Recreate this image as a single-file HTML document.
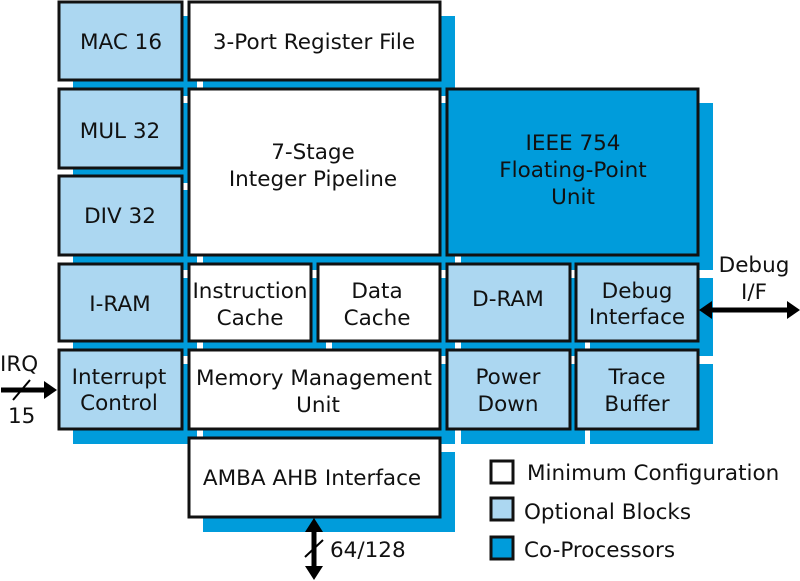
<!DOCTYPE html>
<html><head><meta charset="utf-8"><style>
html,body{margin:0;padding:0;background:#fff;width:800px;height:581px;overflow:hidden}
text{font-family:"DejaVu Sans","Liberation Sans",sans-serif;font-size:21.5px;fill:#111}
</style></head><body>
<svg width="800" height="581" viewBox="0 0 800 581" xmlns="http://www.w3.org/2000/svg">
<g fill="#009cdb">
<rect x="73" y="16" width="124" height="80"/>
<rect x="203" y="16" width="252" height="80"/>
<rect x="73" y="103" width="124" height="80"/>
<rect x="73" y="190" width="124" height="80"/>
<rect x="203" y="103" width="252" height="167"/>
<rect x="461" y="103" width="252" height="167"/>
<rect x="73" y="278" width="124" height="78"/>
<rect x="203" y="278" width="123" height="78"/>
<rect x="332" y="278" width="123" height="78"/>
<rect x="461" y="278" width="124" height="78"/>
<rect x="590" y="278" width="123" height="78"/>
<rect x="73" y="364" width="124" height="80"/>
<rect x="203" y="364" width="252" height="80"/>
<rect x="461" y="364" width="124" height="80"/>
<rect x="590" y="364" width="123" height="80"/>
<rect x="203" y="452" width="252" height="80"/>
</g>
<g stroke="#111" stroke-width="3">
<rect x="59" y="2" width="123" height="78" fill="#acd7f1"/>
<rect x="189" y="2" width="251" height="78" fill="#fff"/>
<rect x="59" y="89" width="123" height="79" fill="#acd7f1"/>
<rect x="59" y="176" width="123" height="79" fill="#acd7f1"/>
<rect x="189" y="89" width="251" height="166" fill="#fff"/>
<rect x="447" y="89" width="251" height="166" fill="#009cdb"/>
<rect x="59" y="264" width="123" height="77" fill="#acd7f1"/>
<rect x="189" y="264" width="122" height="77" fill="#fff"/>
<rect x="318" y="264" width="122" height="77" fill="#fff"/>
<rect x="447" y="264" width="123" height="77" fill="#acd7f1"/>
<rect x="576" y="264" width="122" height="77" fill="#acd7f1"/>
<rect x="59" y="350" width="123" height="79" fill="#acd7f1"/>
<rect x="189" y="350" width="251" height="79" fill="#fff"/>
<rect x="447" y="350" width="123" height="79" fill="#acd7f1"/>
<rect x="576" y="350" width="122" height="79" fill="#acd7f1"/>
<rect x="189" y="438" width="251" height="79" fill="#fff"/>
<rect x="491" y="461" width="22" height="22" fill="#fff"/>
<rect x="491" y="498" width="22" height="22" fill="#acd7f1"/>
<rect x="491" y="537" width="22" height="22" fill="#009cdb"/>
</g>
<g text-anchor="middle">
<text x="121" y="49">MAC 16</text>
<text x="314" y="49">3-Port Register File</text>
<text x="120" y="138">MUL 32</text>
<text x="120" y="223">DIV 32</text>
<text x="313" y="159">7-Stage</text>
<text x="313" y="186">Integer Pipeline</text>
<text x="573" y="150">IEEE 754</text>
<text x="573" y="177">Floating-Point</text>
<text x="573" y="204">Unit</text>
<text x="120" y="311">I-RAM</text>
<text x="250" y="298">Instruction</text>
<text x="250" y="325">Cache</text>
<text x="377" y="298">Data</text>
<text x="377" y="325">Cache</text>
<text x="508" y="306">D-RAM</text>
<text x="637" y="298">Debug</text>
<text x="637" y="324">Interface</text>
<text x="119" y="384">Interrupt</text>
<text x="119" y="410">Control</text>
<text x="314" y="385">Memory Management</text>
<text x="318" y="412">Unit</text>
<text x="508" y="384">Power</text>
<text x="508" y="411">Down</text>
<text x="637" y="384">Trace</text>
<text x="637" y="411">Buffer</text>
<text x="312" y="485">AMBA AHB Interface</text>
<text x="754" y="272">Debug</text>
<text x="754" y="299">I/F</text>
</g>
<text x="0" y="371">IRQ</text>
<text x="8" y="423">15</text>
<text x="330" y="557">64/128</text>
<text x="527" y="480">Minimum Configuration</text>
<text x="524" y="519">Optional Blocks</text>
<text x="524" y="557">Co-Processors</text>
<g stroke="#000" stroke-width="5" fill="none">
<line x1="1" y1="390" x2="48" y2="390"/>
<line x1="706" y1="310" x2="792" y2="310"/>
<line x1="314" y1="528" x2="314" y2="570"/>
</g>
<g fill="#000">
<path d="M44,381 L57,390 L44,399 Z"/>
<path d="M699,310 L712,301 L712,319 Z"/>
<path d="M800,310 L787,301 L787,319 Z"/>
<path d="M314,518 L305,532 L323,532 Z"/>
<path d="M314,580 L305,566 L323,566 Z"/>
</g>
<g stroke="#000" stroke-width="2">
<line x1="13" y1="400" x2="30" y2="380"/>
<line x1="305" y1="557" x2="323" y2="540"/>
</g>
</svg>
</body></html>
